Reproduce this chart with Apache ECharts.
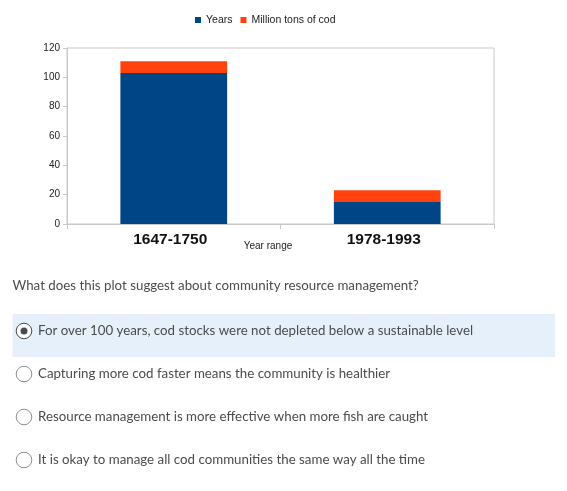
<!DOCTYPE html>
<html>
<head>
<meta charset="utf-8">
<script src="https://cdn.jsdelivr.net/npm/echarts@6/dist/echarts.min.js"></script>
<style>
  html, body { margin: 0; padding: 0; background: #ffffff; }
  #chart { width: 567px; height: 491px; }
</style>
</head>
<body>
<div id="chart"></div>
<script>
const categories = ['1647-1750', '1978-1993'];
const yearsValues = [103, 15];
const codValues = [8, 8];
const seriesNames = ['Years', 'Million tons of cod'];
const xAxisName = 'Year range';
const question = 'What does this plot suggest about community resource management?';
const options = [
  'For over 100 years, cod stocks were not depleted below a sustainable level',
  'Capturing more cod faster means the community is healthier',
  'Resource management is more effective when more fish are caught',
  'It is okay to manage all cod communities the same way all the time'
];
const selectedIndex = 0;

const chart = echarts.init(document.getElementById('chart'), null, { renderer: 'canvas' });

const textColor = '#494c4e';
const optFont = 'Lato, "Open Sans", sans-serif';
const optY = [331, 374, 417, 460];

const graphics = [];
graphics.push({
  type: 'text',
  style: { x: 12.5, y: 286, verticalAlign: 'middle', text: question, font: '13.3px ' + optFont, fill: textColor }
});
graphics.push({
  type: 'rect', shape: { x: 12.5, y: 314, width: 542.5, height: 43 },
  style: { fill: '#e6f0fb' }, z: -1
});
options.forEach((t, i) => {
  const cy = optY[i];
  const sel = i === selectedIndex;
  graphics.push({
    type: 'circle', shape: { cx: 24, cy: cy, r: 7.8 },
    style: { fill: '#ffffff', stroke: sel ? '#494c4e' : '#8a9093', lineWidth: 1 }
  });
  if (sel) {
    graphics.push({
      type: 'circle', shape: { cx: 24, cy: cy, r: 3.5 },
      style: { fill: '#494c4e' }
    });
  }
  graphics.push({
    type: 'text',
    style: { x: 38, y: cy, verticalAlign: 'middle', text: t, font: '13.3px ' + optFont, fill: textColor }
  });
});

chart.setOption({
  animation: false,
  textStyle: { fontFamily: '"Liberation Sans", Arial, sans-serif' },
  color: ['#004586', '#ff420e'],
  legend: {
    data: seriesNames,
    left: 195, top: 14.5,
    padding: 0,
    itemWidth: 6, itemHeight: 6, itemGap: 8,
    icon: 'rect',
    textStyle: { fontSize: 10.5, color: '#222222', fontFamily: '"Liberation Sans", Arial, sans-serif' }
  },
  grid: {
    left: 67, right: 73, top: 48, bottom: 267,
    show: true, borderColor: '#c8c8c8', borderWidth: 1,
    containLabel: false
  },
  xAxis: {
    type: 'category',
    data: categories,
    boundaryGap: true,
    name: xAxisName,
    nameLocation: 'middle',
    nameGap: 17,
    nameMoveOverlap: false,
    nameTextStyle: { fontSize: 10, color: '#222222', padding: [0, 25, 0, 0] },
    axisLine: { lineStyle: { color: '#c8c8c8' } },
    axisTick: { show: true, length: 5, lineStyle: { color: '#c8c8c8' } },
    axisLabel: { fontSize: 15.5, fontWeight: 'bold', color: '#111111', margin: 8, padding: [0, 7, 0, 0] }
  },
  yAxis: {
    type: 'value',
    min: 0, max: 120, interval: 20,
    axisLine: { show: true, lineStyle: { color: '#c8c8c8' } },
    axisTick: { show: true, length: 4, lineStyle: { color: '#c8c8c8' } },
    splitLine: { show: false },
    axisLabel: { fontSize: 10, color: '#222222', margin: 7 }
  },
  series: [
    { name: seriesNames[0], type: 'bar', stack: 'a', barWidth: '50%', data: yearsValues },
    { name: seriesNames[1], type: 'bar', stack: 'a', barWidth: '50%', data: codValues }
  ],
  graphic: graphics
});
</script>
</body>
</html>
